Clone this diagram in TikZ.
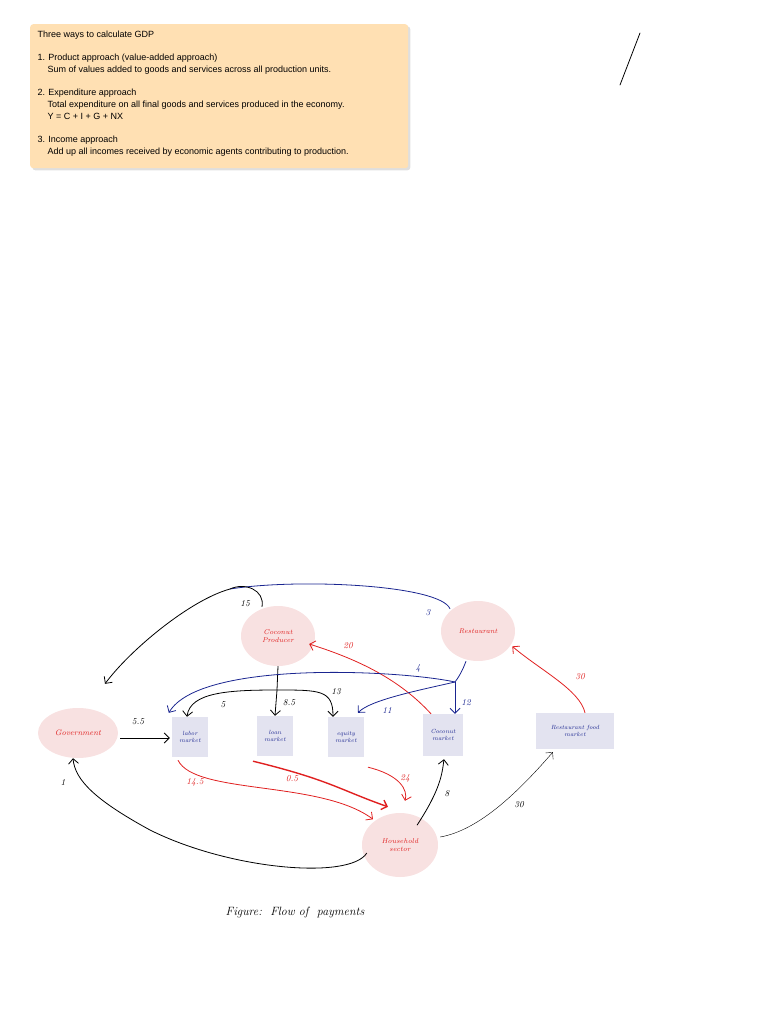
\documentclass[tikz,border=0pt]{standalone}
\usepackage{fontspec}
\setsansfont{Liberation Sans}
\usetikzlibrary{shadows,arrows.meta,calc,shapes.geometric}
\definecolor{hred}{HTML}{E02020}
\definecolor{hblue}{HTML}{1A2590}
\definecolor{epink}{HTML}{F8E1E1}
\definecolor{bgray}{HTML}{E3E3F0}
\definecolor{note}{HTML}{FFE0B3}
\begin{document}
\begin{tikzpicture}[x=1pt,y=-1pt,
  mbox/.style={fill=bgray,text=hblue,font=\itshape\fontsize{6}{7}\selectfont,align=center,inner sep=1pt},
  bk/.style={black,thick,-{Straight Barb[length=5pt]}},
  rd/.style={hred,thick,-{Straight Barb[length=5pt]}},
  bl/.style={hblue,thick,-{Straight Barb[length=5pt]}},
  lb/.style={font=\itshape\small}]
\useasboundingbox (0,0) rectangle (768,1024);
\node[draw=none,fill=note,rounded corners=3pt,drop shadow={opacity=0.25},minimum width=378pt,minimum height=144pt,anchor=north west] (notebox) at (30,24) {};
\node[anchor=north west,font=\sffamily\fontsize{9}{12}\selectfont,align=left] (notetext) at (34,27) {Three ways to calculate GDP\\[11pt]
1. Product approach (value-added approach)\\
\hspace*{10pt}Sum of values added to goods and services across all production units.\\[11pt]
2. Expenditure approach\\
\hspace*{10pt}Total expenditure on all final goods and services produced in the economy.\\
\hspace*{10pt}Y = C + I + G + NX\\[11pt]
3. Income approach\\
\hspace*{10pt}Add up all incomes received by economic agents contributing to production.};
\coordinate (s1) at (620,85); \coordinate (s2) at (640,33);
\draw[thick,line cap=round] (s1) -- (s2);

\node[ellipse,fill=epink,text=hred,font=\itshape\footnotesize,minimum width=80pt,minimum height=50pt] (gov) at (78,733) {Government};
\node[ellipse,fill=epink,text=hred,font=\itshape\scriptsize,align=center,minimum width=74pt,minimum height=60pt] (cp) at (278,636) {Coconut\\Producer};
\node[ellipse,fill=epink,text=hred,font=\itshape\scriptsize,minimum width=74pt,minimum height=60pt] (rest) at (478,631) {Restaurant};
\node[ellipse,fill=epink,text=hred,font=\itshape\scriptsize,align=center,minimum width=76pt,minimum height=64pt] (hh) at (400,845) {Household\\sector};
\node[mbox,minimum width=36pt,minimum height=40pt] (lab) at (190,737) {labor\\market};
\node[mbox,minimum width=36pt,minimum height=40pt] (loan) at (275,736) {loan\\market};
\node[mbox,minimum width=36pt,minimum height=40pt] (eq) at (346,737) {equity\\market};
\node[mbox,minimum width=40pt,minimum height=42pt] (cm) at (443,735) {Coconut\\market};
\node[mbox,minimum width=78pt,minimum height=36pt] (rfm) at (575,731) {Restaurant food\\market};

\coordinate (top) at (230,589);
\draw[hblue,thick] ($(rest.north)+(-28,8)$) .. controls (440,585) and (300,578) .. (top);
\draw[bk] ($(cp.north)+(-16,1)$) .. controls (265,590) and (245,582) .. (top) .. controls (190,600) and (130,650) .. ($(gov.north)+(27,-24)$);
\node[lb] (l15) at (245,604) {15};
\node[lb,hblue] (l3) at (428,613) {3};

\draw[rd] ($(cm.north)+(-12,0)$) .. controls (400,680) and (360,660) .. ($(cp.east)+(-6,8)$);
\node[lb,hred] (l20) at (348,646) {20};
\draw[rd] ($(rfm.north)+(10,0)$) .. controls (580,690) and (540,670) .. ($(rest.south east)+(8,-6)$);
\node[lb,hred] (l30a) at (580,677) {30};

\coordinate (sp) at (277,690);
\draw[black,thick] (cp.south) -- (sp);
\draw[bk] (sp) .. controls (230,690) and (190,692) .. ($(lab.north)+(-3,0)$);
\draw[bk] (sp) -- (loan.north);
\draw[bk] (sp) .. controls (320,690) and (333,690) .. ($(eq.north)+(-13,0)$);
\node[lb] (l5) at (223,705) {5};
\node[lb] (l85) at (289,703) {8.5};
\node[lb] (l13) at (336,692) {13};

\coordinate (rp) at (455,682);
\draw[hblue,thick] ($(rest.south)+(-12,0)$) .. controls (462,672) and (458,678) .. (rp);
\draw[bl] (rp) .. controls (400,670) and (200,660) .. ($(lab.north west)+(-3,-4)$);
\draw[bl] (rp) .. controls (420,690) and (370,700) .. ($(eq.north)+(12,-4)$);
\draw[bl] (rp) -- ($(cm.north)+(12,0)$);
\node[lb,hblue] (l4) at (418,668) {4};
\node[lb,hblue] (l11) at (387,710) {11};
\node[lb,hblue] (l12) at (466,703) {12};

\draw[bk] ($(gov.east)+(2,5)$) -- ($(lab.west)+(-2,1)$);
\node[lb] (l55) at (138,722) {5.5};

\draw[rd] ($(lab.south)+(-12,3)$) .. controls (195,795) and (320,780) .. ($(hh.north west)+(0,-3)$);
\draw[rd,line width=1.4pt] ($(loan.south)+(-22,5)$) .. controls (330,780) and (340,790) .. ($(hh.north)+(-12,-6)$);
\draw[rd] ($(eq.south)+(22,10)$) .. controls (400,775) and (408,790) .. ($(hh.north)+(5,-12)$);
\node[lb,hred] (l145) at (195,782) {14.5};
\node[lb,hred] (l05) at (292,779) {0.5};
\node[lb,hred] (l24) at (405,778) {24};

\draw[bk] ($(hh.west)+(5,8)$) .. controls (350,880) and (230,870) .. (150,830) .. controls (95,800) and (75,780) .. ($(gov.south)+(-5,0)$);
\node[lb] (l1) at (63,782) {1};
\draw[bk] ($(hh.north east)+(-10,3)$) .. controls (440,790) and (442,775) .. ($(cm.south)+(1,3)$);
\node[lb] (l8) at (447,794) {8};
\draw[black,-{Straight Barb[length=5pt]}] ($(hh.east)+(2,-8)$) .. controls (480,830) and (520,790) .. ($(rfm.south west)+(17,3)$);
\node[lb] (l30b) at (519,805) {30};

\node[font=\large\itshape] (cap) at (295,912) {Figure:\ \ Flow of\ \ payments};
\end{tikzpicture}
\end{document}
